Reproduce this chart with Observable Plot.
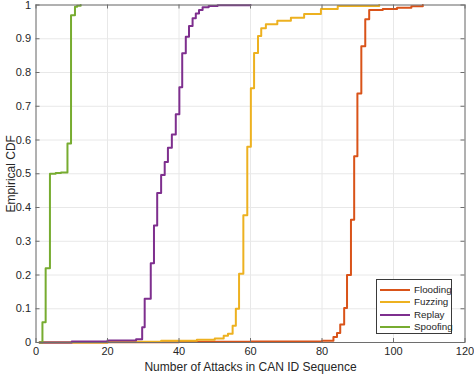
<!DOCTYPE html>
<html>
<head>
<meta charset="utf-8">
<script src="https://cdn.jsdelivr.net/npm/d3@7"></script>
<script src="https://cdn.jsdelivr.net/npm/@observablehq/plot@0.6"></script>
<style>
  body { margin: 0; background: white; }
  #wrap { position: relative; width: 474px; height: 374px; font-family: "Liberation Sans", Arial, sans-serif; }
  #legend { position: absolute; left: 376px; top: 279px; width: 76px; height: 55px; background: white;
            border: 1px solid #3a3a3a; box-sizing: border-box; font-size: 9.8px; color: #262626; }
  .row { position: absolute; left: 0; height: 12px; display: flex; align-items: center; }
  .sw { position: absolute; left: 3px; width: 30px; height: 2px; }
  .lb { position: absolute; left: 37px; white-space: nowrap; line-height: 12px; }
</style>
</head>
<body>
<div id="wrap"></div>
<script>
const names = ["Flooding", "Fuzzing", "Replay", "Spoofing"];
const colors = ["#D95319", "#EDB120", "#7E2F8E", "#77AC30"];

const floodX = [1, 20, 40, 60, 80, 83.2, 84.2, 85.1, 86.2, 87, 88.1, 89, 89.9, 91, 92.1, 93.2, 97, 101, 105, 108.2];
const floodY = [0, 0.001, 0.002, 0.003, 0.005, 0.016, 0.028, 0.053, 0.102, 0.2, 0.364, 0.552, 0.738, 0.878, 0.958, 0.985, 0.988, 0.992, 0.996, 1.0];

const fuzzX = [1, 20, 35, 45, 50, 52.5, 53.7, 55, 55.9, 56.8, 58, 59.1, 60.1, 61, 62.1, 63, 64.3, 67.5, 71.3, 75, 79.7, 84.4, 96];
const fuzzY = [0, 0.002, 0.005, 0.008, 0.012, 0.02, 0.026, 0.05, 0.1, 0.204, 0.377, 0.58, 0.753, 0.858, 0.908, 0.931, 0.943, 0.953, 0.962, 0.973, 0.988, 0.997, 1.0];

const replayX = [1, 10, 20, 28, 29.7, 30.4, 32.1, 33, 33.9, 35, 36, 36.9, 38, 39.1, 40.1, 40.9, 41.9, 42.8, 43.8, 44.7, 45.6, 46.6, 48.3, 50.8, 60];
const replayY = [0, 0.003, 0.006, 0.01, 0.045, 0.13, 0.235, 0.347, 0.443, 0.496, 0.535, 0.577, 0.616, 0.676, 0.756, 0.857, 0.906, 0.938, 0.961, 0.975, 0.985, 0.993, 0.997, 0.999, 1.0];

const spoofX = [1, 1.8, 2.7, 3.9, 5.5, 7, 8.8, 9.8, 10.9, 11.5, 12.5];
const spoofY = [0, 0.06, 0.22, 0.5, 0.502, 0.504, 0.59, 0.97, 0.995, 0.998, 1.0];

const xTicks = [0, 20, 40, 60, 80, 100, 120];
const yTicks = [0, 0.1, 0.2, 0.3, 0.4, 0.5, 0.6, 0.7, 0.8, 0.9, 1];
const xLabel = "Number of Attacks in CAN ID Sequence";
const yLabel = "Empirical CDF";

const series = [
  {name: names[0], xs: floodX, ys: floodY},
  {name: names[1], xs: fuzzX, ys: fuzzY},
  {name: names[2], xs: replayX, ys: replayY},
  {name: names[3], xs: spoofX, ys: spoofY}
];
const rows = series.flatMap(s => s.xs.map((x, i) => ({series: s.name, x, y: s.ys[i]})));

const W = 474, H = 374, mL = 35.5, mR = 9.5, mT = 4.5, mB = 32;
const pH = H - mT - mB, pW = W - mL - mR;
const tickLen = 4, axisColor = "#6e6e6e";

const chart = Plot.plot({
  width: W, height: H,
  marginLeft: mL, marginRight: mR, marginTop: mT, marginBottom: mB,
  x: {domain: [0, 120]},
  y: {domain: [0, 1]},
  color: {domain: names, range: colors},
  style: {fontFamily: "'Liberation Sans', Arial, sans-serif", fontSize: "11px", color: "#262626", background: "white", overflow: "visible"},
  marks: [
    Plot.gridX(xTicks, {stroke: "#e8e8e8", strokeOpacity: 1}),
    Plot.gridY(yTicks, {stroke: "#e8e8e8", strokeOpacity: 1}),
    Plot.line(rows, {x: "x", y: "y", z: "series", stroke: "series", curve: "step-after", strokeWidth: 2}),
    Plot.frame({stroke: axisColor, strokeWidth: 1}),
    Plot.tickX(xTicks, {x: d => d, stroke: axisColor, insetTop: pH - tickLen}),
    Plot.tickX(xTicks, {x: d => d, stroke: axisColor, insetBottom: pH - tickLen}),
    Plot.tickY(yTicks, {y: d => d, stroke: axisColor, insetRight: pW - tickLen}),
    Plot.tickY(yTicks, {y: d => d, stroke: axisColor, insetLeft: pW - tickLen}),
    Plot.axisX(xTicks, {tickSize: 0, tickPadding: 5, label: null, tickFormat: d => String(d)}),
    Plot.axisY(yTicks, {tickSize: 0, tickPadding: 5, label: null, tickFormat: d => String(+d.toFixed(1))}),
    Plot.text([xLabel], {frameAnchor: "bottom", dy: 24.5, lineAnchor: "middle", textAnchor: "middle", fontSize: 12, fill: "#262626"}),
    Plot.text([yLabel], {frameAnchor: "left", dx: -25, rotate: -90, lineAnchor: "middle", textAnchor: "middle", fontSize: 12, fill: "#262626"})
  ]
});

const wrap = document.getElementById("wrap");
wrap.appendChild(chart);

const legend = document.createElement("div");
legend.id = "legend";
names.forEach((n, i) => {
  const row = document.createElement("div");
  row.className = "row";
  row.style.top = (4 + i * 12.3) + "px";
  const sw = document.createElement("div");
  sw.className = "sw";
  sw.style.background = colors[i];
  sw.style.top = "5px";
  const lb = document.createElement("div");
  lb.className = "lb";
  lb.textContent = n;
  row.appendChild(sw);
  row.appendChild(lb);
  legend.appendChild(row);
});
wrap.appendChild(legend);
</script>
</body>
</html>
